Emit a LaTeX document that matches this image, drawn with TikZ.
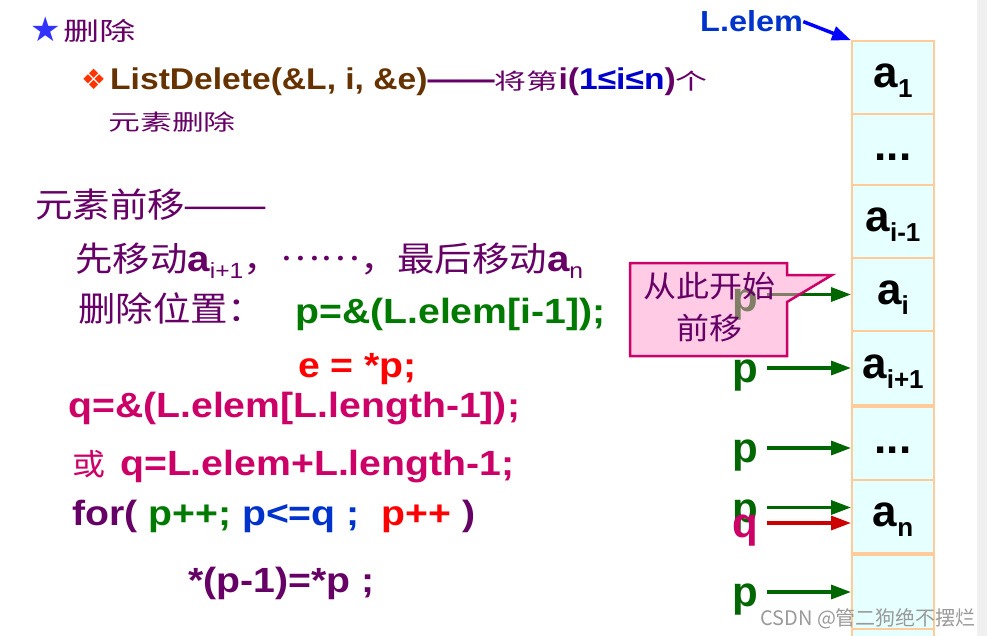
\documentclass[tikz,border=0pt]{standalone}
\usepackage{fontspec}
\setmainfont{Liberation Sans}
\newfontfamily\codefont[FakeStretch=1.12]{Liberation Sans}
\newfontfamily\cjk[FakeStretch=1.1]{Noto Sans CJK SC}
\newfontfamily\cjkwide[FakeStretch=1.45]{Noto Sans CJK SC}
\newfontfamily\wmfont{Noto Sans CJK SC}
\newfontfamily\symfont{DejaVu Sans}
\usetikzlibrary{arrows.meta}
\definecolor{txtpurple}{HTML}{660066}
\definecolor{txtbrown}{HTML}{663300}
\definecolor{starblue}{HTML}{3333FF}
\definecolor{bulletred}{HTML}{FF3300}
\definecolor{idxblue}{HTML}{0000CC}
\definecolor{codegreen}{HTML}{007A00}
\definecolor{codered}{HTML}{FF0000}
\definecolor{codemag}{HTML}{CC0066}
\definecolor{codeblue}{HTML}{0033CC}
\definecolor{arrgreen}{HTML}{006600}
\definecolor{arrred}{HTML}{CC0000}
\definecolor{cellfill}{HTML}{E6FFFF}
\definecolor{celledge}{HTML}{FFCC99}
\definecolor{notefill}{HTML}{FF99CD}
\definecolor{stripgray}{HTML}{F0F0F0}
\definecolor{wmgray}{HTML}{9A9A9A}
\newcommand{\fs}[1]{\fontsize{#1}{#1}\selectfont}
\newcommand{\codesz}{\codefont\bfseries\fs{35}}
\newcommand{\asub}[1]{a\raisebox{-10pt}{\fs{26}#1}}
\newcommand{\ai}[1]{{\codefont\bfseries\fs{36}a}\raisebox{-7pt}{\codefont\fs{22}#1}}
\tikzset{
	txt/.style={inner sep=0pt,anchor=base west},
	cell/.style={draw=celledge,fill=cellfill,line width=2pt,minimum width=82pt,minimum height=73.5pt,inner sep=0pt,text height=30pt,text depth=10pt,font=\bfseries\fs{44}},
	plbl/.style={inner sep=0pt,outer xsep=9pt,anchor=base west,font=\bfseries\fs{42},text=arrgreen},
	parrow/.style={draw=arrgreen,line width=3.2pt,-{Triangle[length=20pt,width=14pt]}},
	qarrow/.style={draw=arrred,line width=3.2pt,-{Triangle[length=20pt,width=14pt]}},
	elemarrow/.style={draw=blue,line width=3.5pt,-{Triangle[length=19pt,width=14pt]}},
	notebox/.style={draw=codemag,line width=2.5pt,fill=notefill,fill opacity=0.5}
}
\begin{document}
\begin{tikzpicture}[x=1pt,y=-1pt]
\path[fill=white,use as bounding box] (0,0) rectangle (987,636);
\fill[stripgray] (977,0) rectangle (987,636);

\node[txt,font=\symfont\fs{34},text=starblue] (star) at (30,42) {★};
\node[txt,font=\cjkwide\fs{25},text=txtpurple] (title) at (63,41) {删除};
\node[txt,font=\symfont\fs{28},text=bulletred] (bullet) at (81,90) {❖};
\node[txt,font=\codefont\bfseries\fs{30},text=txtbrown] (func) at (110,90) {ListDelete(\&L, i, \&e)\color{txtpurple}——{\cjkwide\mdseries\fs{22}将第}i({\color{idxblue}1≤i≤n}){\cjkwide\mdseries\fs{22}个}};
\node[txt,font=\cjkwide\fs{22},text=txtpurple] (funcdesc) at (108,131) {元素删除};
\node[txt,font=\cjk\fs{34},text=txtpurple] (shift) at (35,218) {元素前移{\codefont\fs{36}——}};
\node[txt,font=\cjk\fs{34},text=txtpurple] (order) at (75,271) {先移动\ai{i+1}，\raisebox{10pt}{……}，最后移动\ai{n}};
\node[txt,font=\cjk\fs{34},text=txtpurple] (pos) at (78,321) {删除位置：};
\node[txt,font=\codesz,text=codegreen] (pset) at (295,323) {p=\&(L.elem[i-1]);};
\node[txt,font=\codesz,text=codered] (eset) at (298,377) {e = *p;};
\node[txt,font=\codesz,text=codemag] (qset) at (68,417) {q=\&(L.elem[L.length-1]);};
\node[txt,font=\cjk\fs{30},text=codemag] (alt) at (72,475) {或};
\node[txt,font=\codesz,text=codemag] (qalt) at (120,475) {q=L.elem+L.length-1;};
\node[txt,font=\codesz,text=txtpurple] (loop) at (72,525) {for( {\color{codegreen}p++;} {\color{codeblue}p<=q ;} \ {\color{codered}p++} )};
\node[txt,font=\codesz,text=txtpurple] (body) at (188,592) {*(p-1)=*p ;};

\node[cell] (c1) at (893,78) {\asub{1}};
\node[cell] (c2) at (893,150.5) {...};
\node[cell] (c3) at (893,222) {\asub{i-1}};
\node[cell] (c4) at (893,294.5) {\asub{i}};
\node[cell] (c5) at (893,368) {\asub{i+1}};
\node[cell] (c6) at (893,443.5) {...};
\node[cell] (c7) at (893,516.5) {\asub{n}};
\node[cell] (c8) at (893,592) {};
\node[cell] (c9) at (893,666) {};

\node[txt,font=\codefont\bfseries\fs{29},text=codeblue] (lelem) at (700,32) {L.elem};
\draw[elemarrow] (lelem.east) -- (c1.north west);

\node[plbl] (p4) at (723,311) {p};
\draw[parrow] (p4.east |- c4.west) -- (c4.west);
\node[plbl] (p5) at (723,382) {p};
\draw[parrow] (p5.east |- c5.west) -- (c5.west);
\coordinate (t6) at ([yshift=-4.5pt]c6.west);
\node[plbl] (p6) at (723,462.5) {p};
\draw[parrow] (p6.east |- t6) -- (t6);
\coordinate (t7) at ([yshift=9pt]c7.west);
\coordinate (t7q) at ([yshift=-6.5pt]c7.west);
\node[plbl] (p7) at (723,522) {p};
\node[plbl,text=codemag] (q7) at (723,537.5) {q};
\draw[parrow] (p7.east |- t7) -- (t7);
\draw[qarrow] (q7.east |- t7q) -- (t7q);
\node[plbl] (p8) at (723,606) {p};
\draw[parrow] (p8.east |- c8.west) -- (c8.west);

\draw[notebox] (630,263) -- (787,263) -- (787,275) -- (832,275) -- (787,302) -- (787,356) -- (630,356) -- cycle;
\node[font=\cjk\fontsize{30}{42}\selectfont,text=txtpurple,align=center,inner sep=0pt] (note) at (709,307.6) {从此开始\\前移};

\node[txt,font=\wmfont\fs{20},text=wmgray] (wm) at (760,625) {CSDN @管二狗绝不摆烂};
\end{tikzpicture}
\end{document}
